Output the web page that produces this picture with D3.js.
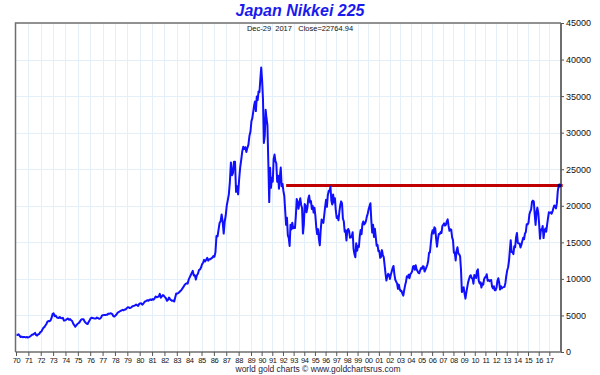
<!DOCTYPE html>
<html lang="en">
<head>
    <meta charset="UTF-8">
    <title>Japan Nikkei 225</title>
    <style>
        body {
            margin: 0;
            padding: 0;
            background: #fff;
            overflow: hidden;
        }
        svg text {
            font-family: "Liberation Sans", Arial, sans-serif;
        }
        .grid line {
            stroke: #e3f0fa;
            stroke-width: 1;
        }
        .frame {
            fill: none;
            stroke: #6e6e6e;
            stroke-width: 1.5;
        }
        .series {
            fill: none;
            stroke: #1010ff;
            stroke-width: 2;
            stroke-linejoin: round;
        }
    </style>
</head>
<body>
    <svg id="chart"></svg>

    <script src="https://d3js.org/d3.v7.min.js"></script>
    <script>
        // Nikkei 225 month-end closes, one array per decade, Jan 1970 .. Dec 2017
        const startYear = 1970;
        const nikkei1970s = [
            2373, 2338, 2422, 2230, 2050, 2106, 2018, 2058, 2039, 2000, 2045, 1987,
            2041, 2112, 2226, 2355, 2387, 2472, 2620, 2323, 2250, 2420, 2464, 2714,
            2784, 3042, 3300, 3397, 3617, 3829, 4150, 4229, 4220, 4321, 4657, 5208,
            5300, 4900, 4983, 4740, 4677, 4642, 4782, 4643, 4624, 4672, 4300, 4306,
            4398, 4520, 4577, 4404, 4500, 4350, 4239, 3869, 3681, 3450, 3650, 3817,
            3931, 4051, 4290, 4445, 4496, 4472, 4201, 4013, 3900, 3830, 4100, 4359,
            4600, 4700, 4640, 4600, 4570, 4580, 4707, 4650, 4550, 4560, 4700, 4991,
            5043, 5062, 5050, 5100, 5090, 5250, 5220, 5290, 5280, 5150, 4900, 4866,
            4990, 5130, 5360, 5450, 5540, 5620, 5700, 5770, 5700, 5830, 5820, 6002,
            6130, 6100, 6010, 6070, 6200, 6280, 6310, 6390, 6480, 6400, 6300, 6569
        ];
        const nikkei1980s = [
            6640, 6660, 6480, 6600, 6800, 6950, 7000, 7080, 7000, 7150, 7180, 7116,
            7250, 7150, 7340, 7600, 7490, 7550, 7600, 7950, 7420, 7600, 7800, 7682,
            7500, 7350, 7000, 7150, 7450, 7200, 7100, 7000, 7050, 6900, 7500, 8017,
            8000, 8050, 8200, 8350, 8480, 8700, 8900, 9150, 9300, 9400, 9350, 9894,
            10200, 10500, 10800, 11100, 10450, 10500, 9900, 10500, 10700, 11200, 11300, 11543,
            11992, 12200, 12600, 12400, 12600, 12880, 12500, 12700, 12700, 12800, 12900, 13113,
            13024, 13640, 15860, 15800, 16700, 17650, 17880, 18820, 17850, 16200, 17850, 18701,
            20048, 20767, 21566, 23274, 25929, 24176, 24488, 26029, 26011, 21900, 22687, 21564,
            23622, 25242, 26260, 27434, 28079, 27769, 28012, 27367, 27924, 28358, 29579, 30159,
            31581, 31985, 32839, 33713, 34267, 32948, 34954, 34431, 35637, 35549, 37269, 38916
        ];
        const nikkei1990s = [
            37189, 34592, 28600, 29585, 33131, 31940, 31036, 25978, 20500, 25194, 22455, 23849,
            23293, 26409, 27000, 26111, 25790, 23291, 24121, 22336, 23916, 25222, 22687, 22984,
            22023, 21339, 19346, 17390, 18348, 15952, 15600, 14500, 17399, 16768, 17683, 16925,
            17024, 16953, 18591, 20919, 20552, 19590, 20380, 21027, 20106, 19704, 16200, 17417,
            20229, 19997, 19112, 19725, 20974, 21400, 20449, 20629, 19564, 19990, 19076, 19723,
            18650, 17053, 16140, 16807, 15437, 14600, 16678, 18117, 17913, 17655, 18744, 19868,
            20813, 19854, 21406, 22041, 21956, 22600, 20693, 20167, 21556, 20466, 21020, 19361,
            18330, 18557, 18003, 19151, 20069, 20605, 20331, 18229, 17888, 16459, 16636, 15259,
            16628, 16831, 16527, 15641, 15671, 15830, 16379, 14108, 13406, 12950, 14884, 13842,
            14499, 14368, 15837, 16702, 16112, 17530, 17862, 17437, 17605, 17942, 18558, 18934
        ];
        const nikkei2000s = [
            19540, 19960, 20337, 17974, 16332, 17411, 15727, 16861, 15747, 14539, 14649, 13786,
            13843, 12884, 12999, 13934, 13262, 12969, 11860, 10714, 9775, 10367, 10697, 10543,
            9997, 10588, 11025, 11493, 11764, 10622, 9878, 9619, 9383, 8640, 9216, 8579,
            8340, 8363, 7973, 7700, 8425, 9083, 9563, 10344, 10219, 10560, 10101, 10677,
            10784, 11042, 11715, 11762, 11236, 11859, 11326, 11082, 10824, 10771, 11161, 11489,
            11388, 11741, 11669, 11009, 11277, 11584, 11900, 12414, 13574, 13607, 14872, 16111,
            16650, 16206, 17060, 16907, 15467, 14400, 15457, 16141, 16128, 16399, 16274, 17226,
            17383, 17604, 17288, 17400, 17876, 18138, 17249, 16569, 16786, 16738, 15681, 15308,
            13592, 13603, 12526, 13850, 14339, 13481, 13377, 13073, 11260, 8200, 8512, 8860,
            7994, 7300, 8110, 8828, 9523, 9958, 10357, 10493, 10133, 10035, 9346, 10546
        ];
        const nikkei2010s = [
            10198, 10126, 11090, 11300, 9769, 9383, 9537, 8824, 9369, 9202, 9937, 10229,
            10238, 10624, 9755, 9850, 9694, 9816, 9833, 8955, 8700, 8988, 8435, 8455,
            8803, 9723, 10084, 9521, 8543, 9007, 8695, 8840, 8870, 8928, 9446, 10395,
            11139, 11559, 12398, 13861, 15300, 13677, 13668, 13389, 14456, 14328, 15662, 16291,
            14915, 14841, 14828, 14304, 14632, 15162, 15621, 15425, 16174, 16414, 17460, 17451,
            17674, 18798, 19207, 19520, 20563, 20700, 20585, 18890, 17388, 19083, 19747, 19034,
            17518, 15500, 16759, 16666, 17235, 15576, 16569, 16887, 16450, 17425, 18308, 19114,
            19041, 19119, 18909, 19197, 19651, 20033, 19925, 19646, 20356, 22012, 22725, 22765
        ];

        const yTicks = [0, 5000, 10000, 15000, 20000, 25000, 30000, 35000, 40000, 45000];
        const tickYears = d3.range(1970, 2018);
        const tickLabels = ["70","71","72","73","74","75","76","77","78","79",
                            "80","81","82","83","84","85","86","87","88","89",
                            "90","91","92","93","94","95","96","97","98","99",
                            "00","01","02","03","04","05","06","07","08","09",
                            "10","11","12","13","14","15","16","17"];

        const lastDate = "Dec-29  2017";
        const lastClose = 22764.94;
        const resistanceFrom = 1992.3;
        const resistanceTo = 2018.25;

        const W = 600, H = 375;
        const plot = {left: 15.5, right: 561, top: 23, bottom: 352};

        const closes = [].concat(nikkei1970s, nikkei1980s, nikkei1990s, nikkei2000s, nikkei2010s);
        const data = closes.map((v, i) => ({date: startYear + (i + 0.5) / 12, value: v}));

        // time is laid out by trading sessions: Saturday sessions before 1989 stretch the early years
        const x = d3.scaleLinear().domain([1970, 1989, 2018]).range([16, 251, 560]);
        const y = d3.scaleLinear().domain([0, 45000]).range([plot.bottom, plot.top]);

        const svg = d3.select("#chart")
            .attr("width", W)
            .attr("height", H);

        const defs = svg.append("defs");
        defs.append("filter")
            .attr("id", "blur")
            .attr("x", "-5%").attr("y", "-200%")
            .attr("width", "110%").attr("height", "500%")
          .append("feGaussianBlur")
            .attr("stdDeviation", 1.4);

        // grid
        const grid = svg.append("g").attr("class", "grid");
        grid.selectAll(".vg")
            .data(tickYears.slice(1))
          .enter().append("line")
            .attr("x1", d => Math.round(x(d)) + 0.5)
            .attr("x2", d => Math.round(x(d)) + 0.5)
            .attr("y1", plot.top)
            .attr("y2", plot.bottom);
        grid.selectAll(".hg")
            .data(yTicks.slice(1, -1))
          .enter().append("line")
            .attr("x1", plot.left)
            .attr("x2", plot.right)
            .attr("y1", d => Math.round(y(d)) + 0.5)
            .attr("y2", d => Math.round(y(d)) + 0.5);

        // frame
        svg.append("path")
            .attr("class", "frame")
            .attr("d", `M${plot.left},${plot.bottom}V${plot.top}H${plot.right}`);

        // x axis
        const xAxis = d3.axisBottom(x)
            .tickValues(tickYears)
            .tickFormat((d, i) => tickLabels[i])
            .tickSize(4)
            .tickPadding(2);
        const gx = svg.append("g")
            .attr("transform", `translate(0,${plot.bottom})`)
            .call(xAxis);
        gx.select(".domain").attr("d", `M${plot.left},0H${plot.right}`)
            .attr("stroke", "#6e6e6e").attr("stroke-width", 1.5);
        gx.selectAll(".tick line").attr("stroke", "#555");
        gx.selectAll(".tick text")
            .attr("fill", "#111")
            .style("font-size", "7.5px")
            .style("letter-spacing", "-0.4px");

        // y axis on the right
        const yAxis = d3.axisRight(y)
            .tickValues(yTicks)
            .tickFormat(d3.format("d"))
            .tickSize(3)
            .tickPadding(2);
        const gy = svg.append("g")
            .attr("transform", `translate(${plot.right},0)`)
            .call(yAxis);
        gy.select(".domain").attr("d", `M0,${plot.top}V${plot.bottom}`)
            .attr("stroke", "#6e6e6e").attr("stroke-width", 2);
        gy.selectAll(".tick line").attr("stroke", "#555");
        gy.selectAll(".tick text")
            .attr("fill", "#111")
            .style("font-size", "9px");

        // resistance line with its shadow
        const level = [{date: resistanceFrom, value: lastClose}, {date: resistanceTo, value: lastClose}];
        const levelLine = d3.line().x(d => x(d.date)).y(d => y(d.value));
        svg.append("path")
            .attr("d", levelLine(level))
            .attr("transform", "translate(1,3.5)")
            .attr("stroke", "#8a8a8a")
            .attr("stroke-width", 4)
            .attr("opacity", 0.8)
            .attr("fill", "none")
            .attr("filter", "url(#blur)");
        svg.append("path")
            .attr("d", levelLine(level))
            .attr("stroke", "#c00000")
            .attr("stroke-width", 3)
            .attr("fill", "none");

        // index series
        const line = d3.line()
            .x(d => x(d.date))
            .y(d => y(d.value));
        svg.append("path")
            .datum(data)
            .attr("class", "series")
            .attr("d", line);

        const last = data[data.length - 1];
        svg.append("circle")
            .attr("cx", x(last.date))
            .attr("cy", y(lastClose))
            .attr("r", 2)
            .attr("fill", "#000080");

        // texts
        svg.append("text")
            .attr("x", 300)
            .attr("y", 16)
            .attr("text-anchor", "middle")
            .attr("fill", "#1a1aee")
            .style("font-size", "16px")
            .style("font-weight", "bold")
            .style("font-style", "italic")
            .text("Japan Nikkei 225");

        svg.append("text")
            .attr("x", 300)
            .attr("y", 31)
            .attr("text-anchor", "middle")
            .attr("fill", "#111")
            .style("font-size", "7.5px")
            .style("white-space", "pre")
            .text(`${lastDate}   Close=${lastClose.toFixed(2)}`);

        svg.append("text")
            .attr("x", 318)
            .attr("y", 372)
            .attr("text-anchor", "middle")
            .attr("fill", "#2a1a3a")
            .style("font-size", "8.5px")
            .text("world gold charts \u00a9 www.goldchartsrus.com");
    </script>
</body>
</html>
